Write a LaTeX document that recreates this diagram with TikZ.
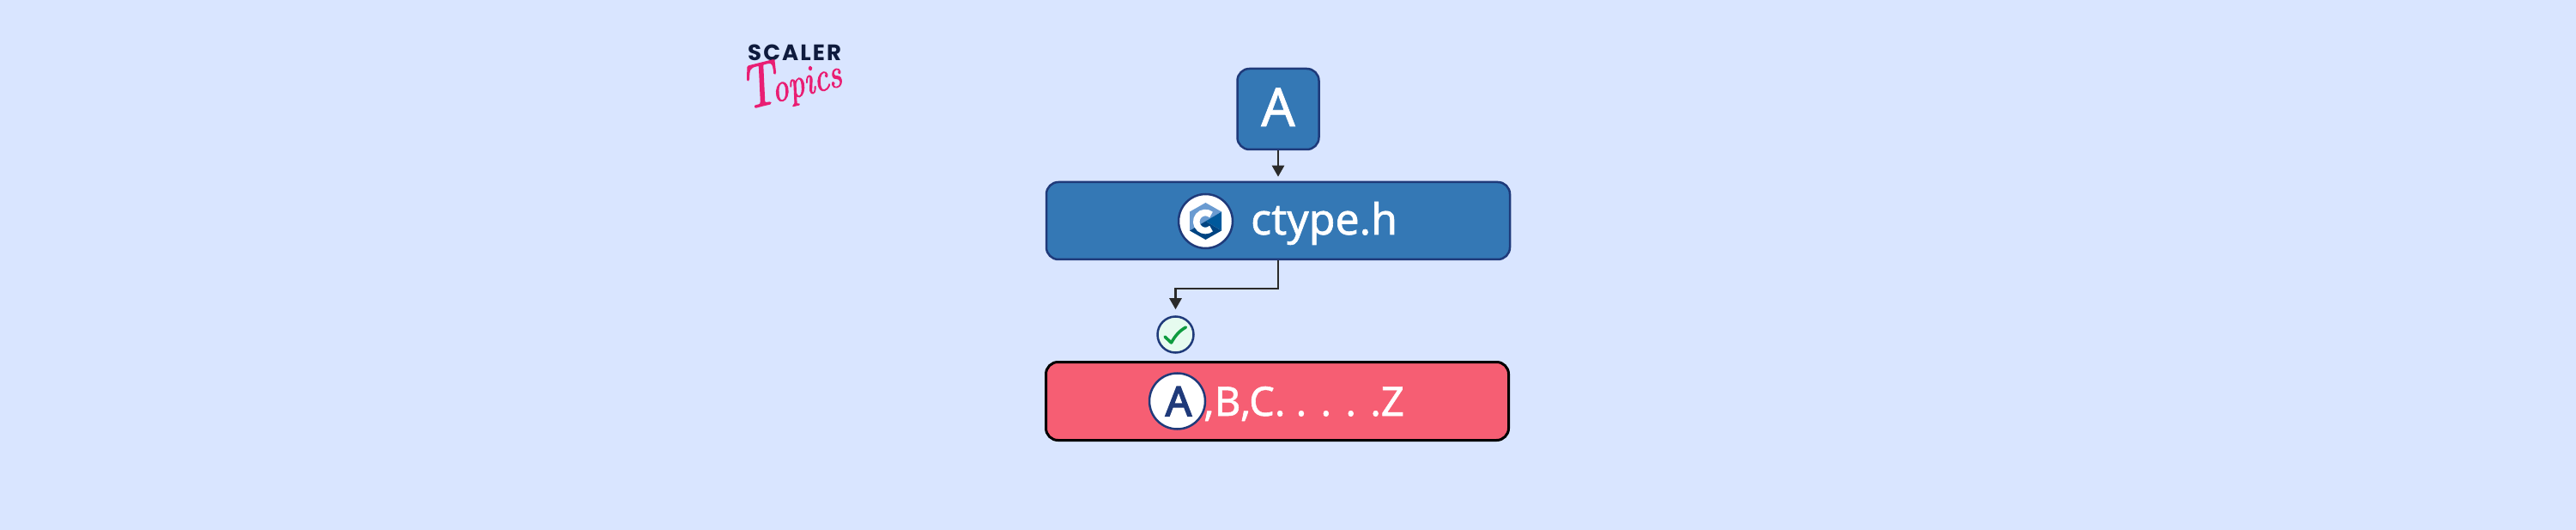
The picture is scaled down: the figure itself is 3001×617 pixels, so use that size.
\documentclass[tikz,border=0pt]{standalone}
\usepackage{fontspec}
\setmainfont{Noto Sans}
\newfontfamily\medfont[FakeBold=1.2]{Noto Sans}
\newfontfamily\heavyfont[FakeBold=3]{Noto Sans}
\newfontfamily\logofont[LetterSpace=8]{Poppins}
\newfontfamily\handfont[FakeStretch=0.8,FakeBold=1.8,ItalicFeatures={FakeStretch=0.8,FakeBold=1.8}]{Latin Modern Roman}
\usetikzlibrary{arrows.meta}
\definecolor{bgc}{HTML}{D9E5FF}
\definecolor{bluec}{HTML}{3478B5}
\definecolor{edgec}{HTML}{1F3A7A}
\definecolor{redc}{HTML}{F65E73}
\definecolor{inkc}{HTML}{2A2A2A}
\definecolor{navyc}{HTML}{0F1B3D}
\definecolor{pinkc}{HTML}{E91E73}
\definecolor{greenc}{HTML}{0E9B3F}
\definecolor{mintc}{HTML}{E6FBEF}
\definecolor{hexl}{HTML}{6A9BD1}
\definecolor{hexm}{HTML}{00599C}
\definecolor{hexd}{HTML}{004482}
\tikzset{
  bluebox/.style={draw=edgec,line width=2.5pt,fill=bluec,rectangle,rounded corners=14pt,inner sep=0pt},
  redbox/.style={draw=black,line width=3pt,fill=redc,rectangle,rounded corners=14pt,inner sep=0pt},
  ring/.style={draw=edgec,line width=2.5pt,circle,inner sep=0pt},
  conn/.style={draw=inkc,line width=2.5pt,-{Triangle[length=13pt,width=14pt]}},
  label/.style={text=white,inner sep=0pt,font=\medfont\fontsize{50pt}{50pt}\selectfont}
}
\begin{document}
\begin{tikzpicture}[x=1pt,y=-1pt]
\useasboundingbox (0,0) rectangle (3001,617);
\fill[bgc] (0,0) rectangle (3001,617);
% logo
\node[inner sep=0pt,anchor=base west,text=navyc] (brand) at (871,70.7) {\logofont\bfseries\fontsize{26pt}{26pt}\selectfont SCALER};
\node[inner sep=0pt,anchor=base west,text=pinkc,rotate=14] (topics) at (869,128) {\handfont\itshape\fontsize{72pt}{72pt}\selectfont T\kern-6pt\fontsize{48pt}{48pt}\selectfont opics};
% boxes
\node[bluebox,minimum width=95pt,minimum height=94pt] (a) at (1489,127) {};
\node[label,font=\medfont\fontsize{62pt}{62pt}\selectfont,anchor=base] (atext) at (1489,147) {A};
\node[bluebox,minimum width=540pt,minimum height=90pt] (ctype) at (1489,257) {};
\node[redbox,minimum width=539pt,minimum height=91pt] (red) at (1488,467) {};
% connectors
\coordinate (elbow) at (1369.5,336);
\node[ring,fill=mintc,minimum size=42pt] (check) at (1369.5,389.5) {};
\draw[conn,shorten >=5pt] (a.south) -- (ctype.north);
\draw[conn,shorten >=7pt] (ctype.south) |- (elbow) -- (check.north);
\draw[greenc,line width=3.5pt,line cap=round,line join=round] (1357,392) -- (1364.5,399) .. controls (1369,391) and (1374,385) .. (1381.5,381);
% C logo
\node[ring,fill=white,minimum size=63pt] (cpp) at (1404.5,257.5) {};
\fill[hexl] (1404.5,236) -- (1423,246.5) -- (1404.5,257.5) -- (1386,268.5) -- (1386,246.5) -- cycle;
\fill[hexm] (1423,246.5) -- (1423,268.5) -- (1404.5,257.5) -- cycle;
\fill[hexd] (1386,268.5) -- (1404.5,279) -- (1423,268.5) -- (1404.5,257.5) -- cycle;
\draw[white,line width=7.5pt] (1411,250) arc[start angle=-50,end angle=-310,radius=10.5];
\node[label,anchor=base west] (ctext) at (1457,273) {ctype.h};
% bottom row
\node[ring,fill=white,minimum size=65pt] (acirc) at (1371.5,467) {};
\node[inner sep=0pt,anchor=base,text=edgec,font=\heavyfont\fontsize{48pt}{48pt}\selectfont] (aletter) at (1373,484.5) {A};
\node[label,font=\medfont\fontsize{47pt}{47pt}\selectfont,anchor=base west] (seq) at (1402,484) {,B,C. . . . .Z};
\end{tikzpicture}
\end{document}
